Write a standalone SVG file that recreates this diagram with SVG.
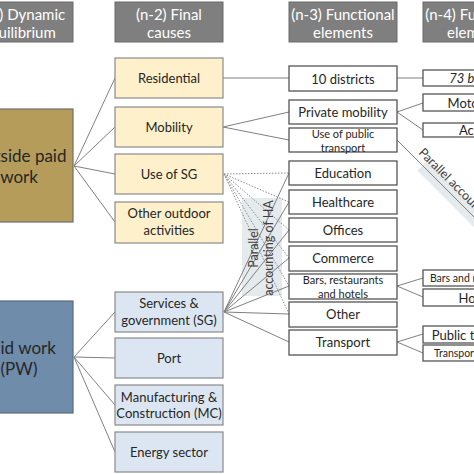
<svg xmlns="http://www.w3.org/2000/svg" width="474" height="474" viewBox="0 0 474 474">
<style>
text{font-family:Lato,"Open Sans","Liberation Sans",sans-serif;text-anchor:middle;dominant-baseline:central;fill:#262626}
.hd rect{fill:#7f7f7f;stroke:#6b6b6b;stroke-width:1}
.hd text{fill:#ffffff;font-size:15px}
.big text{font-size:17px}
.y rect{fill:#fdf0ca;stroke:#8a8a8a;stroke-width:1.2}
.b rect{fill:#dce6f2;stroke:#8a8a8a;stroke-width:1.2}
.y text,.b text{font-size:13px}
.w rect{fill:#ffffff;stroke:#555555;stroke-width:1.3}
.w text{font-size:13px}
.w text.sm{font-size:11px}
.w text.xs{font-size:10.5px}
.ln line{stroke:#808080;stroke-width:1}
.dot line{stroke:#8c8c8c;stroke-width:1;stroke-dasharray:1.5 1.5}
.pa{font-size:12.5px;fill:#404040}
</style>

<g id="headers" class="hd">
  <g id="h1"><rect x="-35" y="2" width="108" height="40"/><text x="19" y="14">(n-1) Dynamic</text><text x="19" y="32">equilibrium</text></g>
  <g id="h2"><rect x="115" y="2" width="108" height="40"/><text x="169" y="14">(n-2) Final</text><text x="169" y="32">causes</text></g>
  <g id="h3"><rect x="289" y="2" width="108" height="40"/><text x="343" y="14">(n-3) Functional</text><text x="343" y="32">elements</text></g>
  <g id="h4"><rect x="423" y="2" width="108" height="40"/><text x="477" y="14">(n-4) Functional</text><text x="477" y="32">elements</text></g>
</g>

<g id="shading">
  <rect x="242" y="198" width="40" height="98" fill="#e5eaed"/>
  <rect x="0" y="0" width="80" height="15" fill="#e5eaed" transform="translate(428,160) rotate(45)"/>
</g>

<g id="connectors">
  <g class="ln">
    <line x1="74" y1="166" x2="115" y2="78"/>
    <line x1="74" y1="166" x2="115" y2="127"/>
    <line x1="74" y1="166" x2="115" y2="174"/>
    <line x1="74" y1="166" x2="115" y2="222"/>
    <line x1="74" y1="357" x2="115" y2="312"/>
    <line x1="74" y1="357" x2="115" y2="358"/>
    <line x1="74" y1="357" x2="115" y2="405"/>
    <line x1="74" y1="357" x2="115" y2="452"/>
    <line x1="223" y1="78" x2="289" y2="78"/>
    <line x1="223" y1="127" x2="289" y2="112"/>
    <line x1="223" y1="127" x2="289" y2="140"/>
    <line x1="224" y1="312" x2="289" y2="173"/>
    <line x1="224" y1="312" x2="289" y2="202"/>
    <line x1="224" y1="312" x2="289" y2="230"/>
    <line x1="224" y1="312" x2="289" y2="258"/>
    <line x1="224" y1="312" x2="289" y2="286"/>
    <line x1="224" y1="312" x2="289" y2="314"/>
    <line x1="224" y1="312" x2="289" y2="342"/>
    <line x1="397" y1="78" x2="423" y2="78"/>
    <line x1="397" y1="112" x2="423" y2="103"/>
    <line x1="397" y1="112" x2="423" y2="130"/>
    <line x1="397" y1="286" x2="423" y2="278"/>
    <line x1="397" y1="286" x2="423" y2="297"/>
    <line x1="397" y1="342" x2="423" y2="334"/>
    <line x1="397" y1="342" x2="423" y2="353"/>
    <line x1="397" y1="140" x2="474" y2="217"/>
  </g>
  <g class="dot">
    <line x1="224" y1="174" x2="289" y2="173"/>
    <line x1="224" y1="174" x2="289" y2="202"/>
    <line x1="224" y1="174" x2="289" y2="230"/>
    <line x1="224" y1="174" x2="289" y2="258"/>
    <line x1="224" y1="174" x2="289" y2="286"/>
    <line x1="224" y1="174" x2="289" y2="314"/>
  </g>
</g>

<g id="labels">
  <text class="pa" transform="translate(253,248) rotate(-90)">Parallel</text>
  <text class="pa" transform="translate(268,248) rotate(-90)">accounting of HA</text>
  <text class="pa" transform="translate(470,199) rotate(45)">Parallel accounting of HA</text>
</g>

<g id="n1-outside" class="big"><rect x="-35" y="109" width="108" height="113" fill="#b59c5a" stroke="#6e6e6e" stroke-width="1.2"/><text x="19" y="155">Outside paid</text><text x="19" y="176">work</text></g>
<g id="n1-pw" class="big"><rect x="-35" y="301" width="108" height="112" fill="#6f8caa" stroke="#5a6b7c" stroke-width="1.2"/><text x="19" y="347">Paid work</text><text x="19" y="368">(PW)</text></g>

<g class="y">
  <g id="residential"><rect x="115" y="58" width="108" height="40"/><text x="169" y="78">Residential</text></g>
  <g id="mobility"><rect x="115" y="107" width="108" height="40"/><text x="169" y="127">Mobility</text></g>
  <g id="use-sg"><rect x="115" y="154" width="108" height="40"/><text x="169" y="174">Use of SG</text></g>
  <g id="outdoor"><rect x="115" y="202" width="108" height="41"/><text x="169" y="213">Other outdoor</text><text x="169" y="230">activities</text></g>
</g>
<g class="b">
  <g id="sg"><rect x="115" y="292" width="108" height="40"/><text x="169" y="303">Services &amp;</text><text x="169" y="320">government (SG)</text></g>
  <g id="port"><rect x="115" y="338" width="108" height="40"/><text x="169" y="358">Port</text></g>
  <g id="mc"><rect x="115" y="385" width="108" height="40"/><text x="169" y="397">Manufacturing &amp;</text><text x="169" y="413">Construction (MC)</text></g>
  <g id="energy"><rect x="115" y="432" width="108" height="40"/><text x="169" y="452">Energy sector</text></g>
</g>

<g class="w">
  <g id="districts"><rect x="289" y="66" width="108" height="25"/><text x="343" y="78.5">10 districts</text></g>
  <g id="private"><rect x="289" y="100" width="108" height="24"/><text x="343" y="112">Private mobility</text></g>
  <g id="public"><rect x="289" y="128" width="108" height="24"/><text class="sm" x="343" y="133.5">Use of public</text><text class="sm" x="343" y="147">transport</text></g>
  <g id="education"><rect x="289" y="161" width="108" height="24"/><text x="343" y="173">Education</text></g>
  <g id="healthcare"><rect x="289" y="190" width="108" height="24"/><text x="343" y="202">Healthcare</text></g>
  <g id="offices"><rect x="289" y="218" width="108" height="24"/><text x="343" y="230">Offices</text></g>
  <g id="commerce"><rect x="289" y="246" width="108" height="25"/><text x="343" y="258">Commerce</text></g>
  <g id="bars"><rect x="289" y="274" width="108" height="25"/><text class="sm" x="343" y="279.5">Bars, restaurants</text><text class="sm" x="343" y="293">and hotels</text></g>
  <g id="other"><rect x="289" y="302" width="108" height="25"/><text x="343" y="314">Other</text></g>
  <g id="transport"><rect x="289" y="330" width="108" height="25"/><text x="343" y="342">Transport</text></g>
</g>

<g class="w">
  <g id="barrios"><rect x="423" y="70" width="108" height="16"/><text x="477" y="78" font-style="italic">73 barrios</text></g>
  <g id="motorized"><rect x="423" y="94" width="108" height="17"/><text x="477" y="102.5">Motorized</text></g>
  <g id="active"><rect x="423" y="123" width="108" height="14"/><text x="477" y="130">Active</text></g>
  <g id="barsrest"><rect x="423" y="270" width="108" height="16"/><text class="xs" x="477" y="278">Bars and restaurants</text></g>
  <g id="hotels"><rect x="423" y="289" width="108" height="17"/><text x="477" y="297.5">Hotels</text></g>
  <g id="pubtrans"><rect x="423" y="326" width="108" height="17"/><text x="477" y="334.5">Public transport</text></g>
  <g id="goods"><rect x="423" y="345" width="108" height="16"/><text class="xs" x="477" y="353">Transport of goods</text></g>
</g>
</svg>
